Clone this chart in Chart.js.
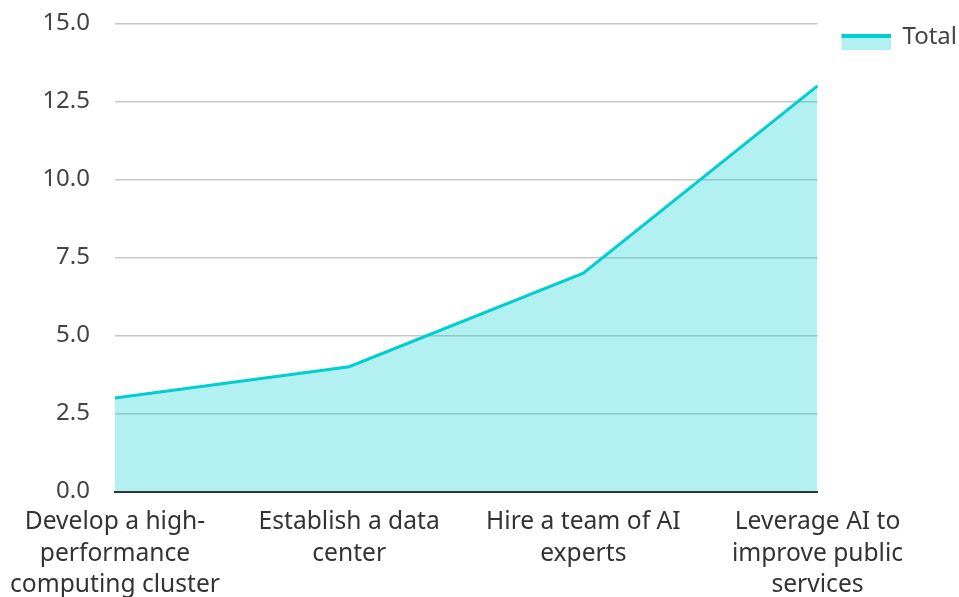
<!DOCTYPE html>
<html>
<head>
<meta charset="utf-8">
<script src="https://cdn.jsdelivr.net/npm/chart.js@4/dist/chart.umd.min.js"></script>
<style>
html,body{margin:0;padding:0;background:#fff;}
#wrap{width:959px;height:597px;position:relative;}
</style>
</head>
<body>
<div id="wrap"><canvas id="c"></canvas></div>
<script>
const categories = [
  ["Develop a high-", "performance", "computing cluster"],
  ["Establish a data", "center"],
  ["Hire a team of AI", "experts"],
  ["Leverage AI to", "improve public", "services"]
];
const seriesName = "Total";
const totalValues = [3, 4, 7, 13];
const yTicks = [0, 2.5, 5, 7.5, 10, 12.5, 15];

const lineColor = "#00CED1";
const fillColor = "rgba(0,206,209,0.3)";

// legend icon: pale box with a thick top line (offset inside a transparent canvas)
const icon = document.createElement("canvas");
icon.width = 65; icon.height = 26;
const ictx = icon.getContext("2d");
ictx.fillStyle = fillColor;
ictx.fillRect(15, 10, 50, 16);
ictx.fillStyle = lineColor;
ictx.fillRect(15, 10, 50, 4);

Chart.defaults.font.family = "'Noto Sans', sans-serif";
Chart.defaults.font.size = 24;
Chart.defaults.color = "#444";

new Chart(document.getElementById("c"), {
  type: "line",
  data: {
    labels: categories,
    datasets: [{
      label: seriesName,
      data: totalValues,
      borderColor: lineColor,
      backgroundColor: fillColor,
      borderWidth: 3,
      fill: "origin",
      pointRadius: 0,
      tension: 0
    }]
  },
  options: {
    responsive: true,
    maintainAspectRatio: false,
    animation: false,
    layout: { padding: { left: 0, right: -8, top: -16, bottom: -14 } },
    plugins: {
      legend: {
        position: "right",
        align: "start",
        title: { display: true, text: "", font: { size: 1, lineHeight: 1 }, padding: 15 },
        labels: {
          usePointStyle: true,
          pointStyle: icon,
          pointStyleWidth: 63,
          boxHeight: 16,
          padding: 10,
          color: "#333",
          generateLabels: (chart) => [{
            text: seriesName,
            pointStyle: icon,
            fillStyle: fillColor,
            strokeStyle: lineColor,
            lineWidth: 0,
            datasetIndex: 0
          }]
        }
      },
      tooltip: { enabled: false }
    },
    scales: {
      x: {
        offset: false,
        grid: { display: true, color: "rgba(0,0,0,0)", drawTicks: true, tickLength: 5, tickColor: "rgba(0,0,0,0)" },
        border: { display: true, color: "#333", width: 2 },
        ticks: { color: "#333", padding: 10, maxRotation: 0, autoSkip: false, font: { size: 24.6, lineHeight: 1.28 } }
      },
      y: {
        min: 0, max: 15,
        afterBuildTicks: (axis) => { axis.ticks = yTicks.map(v => ({ value: v })); },
        grid: { color: "#c8c8c8", lineWidth: 1.5, drawTicks: true, tickLength: 16, tickColor: "rgba(0,0,0,0)" },
        border: { display: false },
        ticks: { color: "#444", padding: 9, callback: (v) => Number(v).toFixed(1) }
      }
    }
  }
});
</script>
</body>
</html>
